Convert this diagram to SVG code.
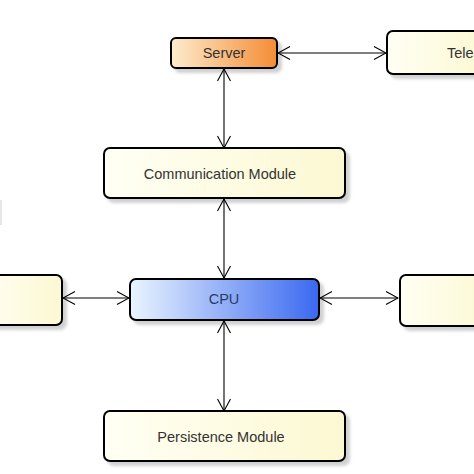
<svg xmlns="http://www.w3.org/2000/svg" width="474" height="474" viewBox="0 0 474 474">
<style>
.box{stroke:#000;stroke-width:2;filter:url(#sh)}
.yel{fill:url(#gy)}
.lbl{font-family:"Liberation Sans",Arial,sans-serif;font-size:14.5px;fill:#333;text-anchor:middle}
.con{stroke:#000;stroke-width:1.1;fill:none;marker-start:url(#ah);marker-end:url(#ah)}
</style>
<defs>
<linearGradient id="gy" x1="0" y1="0" x2="1" y2="0"><stop offset="0" stop-color="#fffff4"/><stop offset="1" stop-color="#fcf8d2"/></linearGradient>
<linearGradient id="go" x1="0" y1="0" x2="1" y2="0"><stop offset="0" stop-color="#fdeccd"/><stop offset="1" stop-color="#f48c35"/></linearGradient>
<linearGradient id="gb" x1="0" y1="0" x2="1" y2="0"><stop offset="0" stop-color="#eaf5ff"/><stop offset="1" stop-color="#3a68f0"/></linearGradient>
<filter id="sh" x="-10%" y="-20%" width="130%" height="160%"><feDropShadow dx="4" dy="4" stdDeviation="1.6" flood-color="#000" flood-opacity="0.18"/></filter>
<marker id="ah" viewBox="0 0 14 16" refX="13" refY="8" markerWidth="14" markerHeight="16" markerUnits="userSpaceOnUse" orient="auto-start-reverse"><path d="M1,1.5 L13,8 L1,14.5" fill="none" stroke="#000" stroke-width="1.1"/></marker>
</defs>
<rect x="-6" y="200" width="8" height="25" fill="#e6e6e6"/>
<g id="connectors">
<line class="con" x1="278" y1="53" x2="386" y2="53"/>
<line class="con" x1="224" y1="69" x2="224" y2="148"/>
<line class="con" x1="224" y1="199" x2="224" y2="278"/>
<line class="con" x1="224" y1="321" x2="224" y2="411"/>
<line class="con" x1="63" y1="298" x2="129" y2="298"/>
<line class="con" x1="320" y1="298" x2="398" y2="298"/>
</g>
<g id="server"><rect class="box" x="171" y="38" width="106" height="30" rx="5" fill="url(#go)"/><text class="lbl" x="224" y="58">Server</text></g>
<g id="tele"><rect class="box yel" x="387" y="31" width="100" height="43" rx="6"/><text class="lbl" x="447" y="58" style="text-anchor:start">Tele</text></g>
<g id="comm"><rect class="box yel" x="104" y="148" width="241" height="50" rx="6"/><text class="lbl" x="220" y="179">Communication Module</text></g>
<g id="cpu"><rect class="box" x="130" y="279" width="189" height="41" rx="6" fill="url(#gb)"/><text class="lbl" x="224" y="304" style="fill:#2a3a66">CPU</text></g>
<g id="left"><rect class="box yel" x="-20" y="275" width="82" height="50" rx="6"/></g>
<g id="right"><rect class="box yel" x="400" y="275" width="90" height="51" rx="6"/></g>
<g id="persist"><rect class="box yel" x="104" y="411" width="241" height="50" rx="6"/><text class="lbl" x="221" y="442">Persistence Module</text></g>
</svg>
